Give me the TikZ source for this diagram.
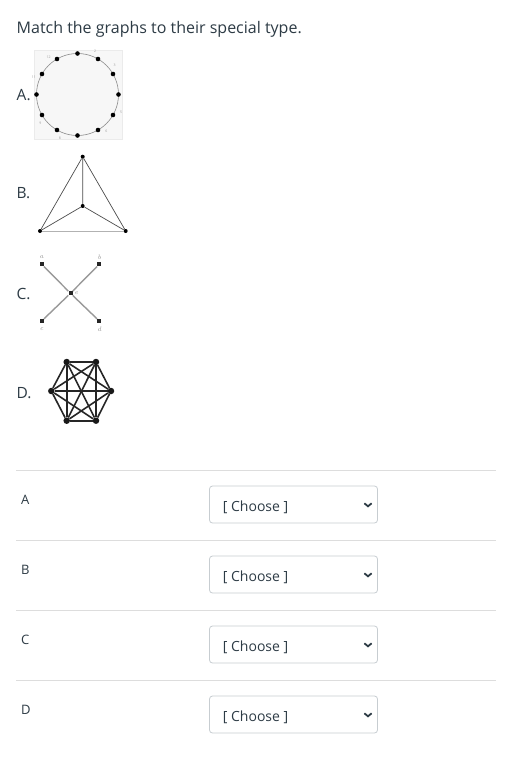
\documentclass[tikz,border=0pt]{standalone}
\usepackage{fontspec}
\setmainfont{Open Sans}
\usetikzlibrary{calc}
\definecolor{txt}{HTML}{2D3B45}
\definecolor{rule}{HTML}{DDDDDD}
\definecolor{selb}{HTML}{C7CDD1}
\tikzset{
  dotA/.style={circle,fill=black,inner sep=0pt,minimum size=4.6pt},
  dotB/.style={circle,fill=black,inner sep=0pt,minimum size=4pt},
  sqC/.style={rectangle,fill=black!85,inner sep=0pt,minimum size=4pt},
  dotD/.style={circle,fill=black!90,inner sep=0pt,minimum size=6.5pt},
  tinylbl/.style={font=\fontsize{3.5}{4}\selectfont,text=black!40,inner sep=0pt},
  clbl/.style={font=\fontfamily{lmr}\itshape\fontsize{6.5}{7}\selectfont,text=black!45,inner sep=0pt},
  glabel/.style={anchor=base west,inner sep=0pt,text=txt,font=\fontsize{15.5}{18}\selectfont},
  rowlabel/.style={anchor=base west,inner sep=0pt,text=txt,font=\fontsize{13}{15}\selectfont},
  selbox/.style={draw=selb,line width=0.8pt,rounded corners=3pt,fill=white},
  choose/.style={anchor=base west,inner sep=0pt,text=txt,font=\fontsize{14}{16}\selectfont},
  hrule/.style={draw=rule,line width=1pt},
  chev/.style={draw=txt,line width=1.8pt,line join=miter}
}
\begin{document}
\begin{tikzpicture}[x=1pt,y=-1pt]
\useasboundingbox[fill=white] (0,0) rectangle (504,760);
% title
\node[anchor=base west,inner sep=0pt,text=txt,font=\fontsize{16}{19}\selectfont] (title) at (16.5,33.3) {Match the graphs to their special type.};

% ---- graph labels
\node[glabel] (lA) at (16.5,100) {A.};
\node[glabel] (lB) at (16.5,198.3) {B.};
\node[glabel] (lC) at (16.5,299) {C.};
\node[glabel] (lD) at (16.5,398.3) {D.};

% ---- Graph A: cycle of 12
\fill[black!3] (34,50) rectangle (122,139);
\draw[black!8,line width=0.4pt] (34,50) rectangle (122,139);
\coordinate (ac) at (77.5,94.5);
\draw[black!45,line width=0.6pt] (ac) circle[radius=41];
\foreach \k in {0,...,11}{
  \pgfmathsetmacro{\ang}{90-30*\k}
  \node[dotA] (a\k) at ($(ac)+({41*cos(\ang)},{-41*sin(\ang)})$) {};
}
\foreach \k/\lab in {1/2,2/3,4/5,5/6,7/8,8/9,10/11,11/12}{
  \pgfmathsetmacro{\ang}{90-30*\k+8}
  \node[tinylbl] (t\k) at ($(ac)+({47*cos(\ang)},{-47*sin(\ang)})$) {\lab};
}

% ---- Graph B
\node[dotB] (b1) at (82.7,156.7) {};
\node[dotB] (b2) at (82.7,206) {};
\node[dotB] (b3) at (40,231) {};
\node[dotB] (b4) at (125.7,231) {};
\draw[black!30,line width=0.8pt] (b3) -- (b4);
\draw[black!70,line width=0.7pt] (b1) -- (b3) (b1) -- (b4) (b1) -- (b2) (b2) -- (b3) (b2) -- (b4);

% ---- Graph C
\node[sqC] (ca) at (41.7,264.3) {};
\node[sqC] (cb) at (99.3,264.3) {};
\node[sqC] (ce) at (70.5,293.3) {};
\node[sqC] (cc) at (41.7,321) {};
\node[sqC] (cd) at (99.3,321) {};
\draw[black!40,line width=1.4pt] (ca) -- (ce) (cb) -- (ce) (cc) -- (ce) (cd) -- (ce);
\node[clbl] (la1) at (41.7,257) {a};
\node[clbl] (lb1) at (99.3,257) {b};
\node[clbl] (le1) at (76.5,293.5) {e};
\node[clbl] (lc1) at (41.7,329) {c};
\node[clbl] (ld1) at (99.3,329) {d};

% ---- Graph D: K6
\node[dotD] (d1) at (66.7,362) {};
\node[dotD] (d2) at (96,362) {};
\node[dotD] (d3) at (111,391) {};
\node[dotD] (d4) at (96,420.7) {};
\node[dotD] (d5) at (66.7,420.7) {};
\node[dotD] (d6) at (51.3,391) {};
\foreach \i/\j in {1/2,1/3,1/4,1/5,1/6,2/3,2/4,2/5,2/6,3/4,3/5,3/6,4/5,4/6,5/6}
  \draw[black!85,line width=1.6pt] (d\i) -- (d\j);

% ---- table rules
\coordinate (r1l) at (16,470); \coordinate (r1r) at (496,470);
\coordinate (r2l) at (16,540); \coordinate (r2r) at (496,540);
\coordinate (r3l) at (16,610); \coordinate (r3r) at (496,610);
\coordinate (r4l) at (16,680); \coordinate (r4r) at (496,680);
\draw[hrule] (r1l) -- (r1r);
\draw[hrule] (r2l) -- (r2r);
\draw[hrule] (r3l) -- (r3r);
\draw[hrule] (r4l) -- (r4r);

% ---- rows
\foreach \L/\n in {A/0,B/1,C/2,D/3}{
  \pgfmathsetmacro{\dy}{70*\n}
  \node[rowlabel] (row\L) at (21,504.3+\dy) {\L};
  \draw[selbox] (209.5,486+\dy) rectangle (377.5,523+\dy);
  \node[choose] (ch\L) at (222.7,511.5+\dy) {[ Choose ]};
  \coordinate (chevmid\L) at (368,506.3+\dy);
  \draw[chev] ($(chevmid\L)+(-3.6,-3)$) -- (chevmid\L) -- ($(chevmid\L)+(3.6,-3)$);
}
\end{tikzpicture}
\end{document}
